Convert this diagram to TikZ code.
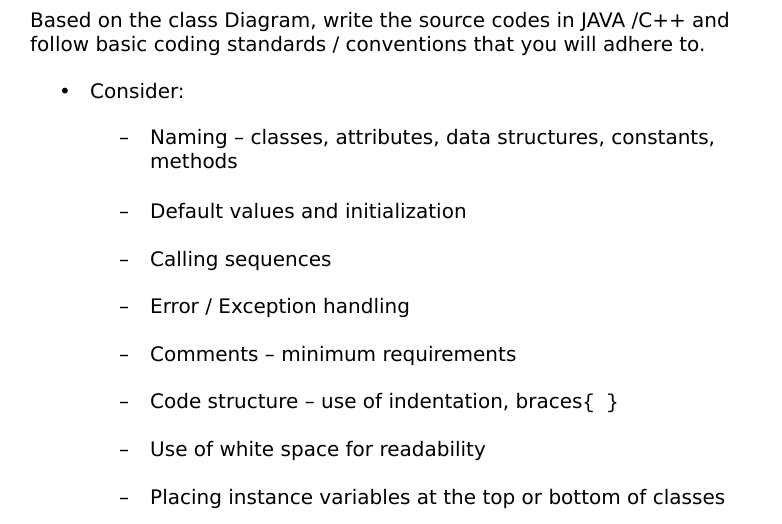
\documentclass[tikz,border=0pt]{standalone}
\usepackage{fontspec}
\setmainfont{DejaVu Sans}
\newfontfamily\monof{Liberation Mono}
\begin{document}
\begin{tikzpicture}[x=1pt,y=1pt,txt/.style={anchor=base west,inner sep=0pt,font=\fontsize{20}{24}\selectfont}]
\useasboundingbox (0,0) rectangle (782,523);
\node[txt] (l1) at (30,523-28) {Based on the class Diagram, write the source codes in JAVA /C++ and};
\node[txt] (l2) at (30,523-52) {follow basic coding standards / conventions that you will adhere to.};
\node[txt] (b) at (59,523-99) {•};
\node[txt] (c) at (90,523-99) {Consider:};
\foreach \y/\t [count=\i] in {145/{Naming – classes, attributes, data structures, constants,},
 218/{Default values and initialization},
 266/{Calling sequences},
 313/{Error / Exception handling},
 361/{Comments – minimum requirements},
 408/{Code structure – use of indentation, braces{\monof\{ \}}},
 456/{Use of white space for readability},
 504/{Placing instance variables at the top or bottom of classes}}{
 \node[txt] (d\i) at (119,523-\y) {–};
 \node[txt] (t\i) at (150,523-\y) {\t};
}
\node[txt] (m) at (150,523-169) {methods};
\end{tikzpicture}
\end{document}
